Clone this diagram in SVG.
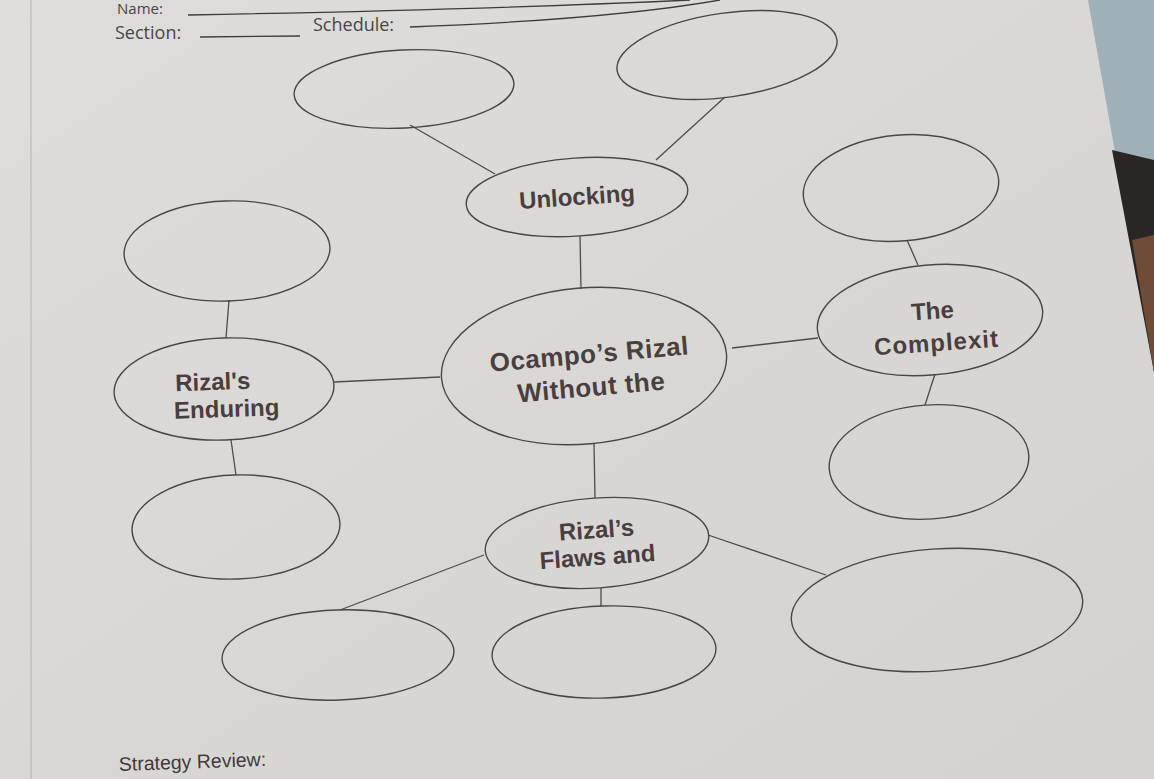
<svg xmlns="http://www.w3.org/2000/svg" width="1154" height="779" viewBox="0 0 1154 779">
<defs>
<linearGradient id="paper" x1="0" y1="0" x2="1" y2="1">
<stop offset="0" stop-color="#dfdddb"/>
<stop offset="1" stop-color="#d4d2cf"/>
</linearGradient>
<style>
.n{fill:none;stroke:#4a4646;stroke-width:1.4}
.c line{stroke:#4f4b4b;stroke-width:1.3}
.t{font-family:"Liberation Sans",Arial,sans-serif;font-weight:bold;font-size:24px;fill:#4a3f3f;text-anchor:middle}
.h{font-family:"Open Sans","Noto Sans",sans-serif;font-size:18px;fill:#4a4646}
.u{fill:none;stroke:#3d3a3a;stroke-width:1.3}
</style>
</defs>
<rect x="0" y="0" width="1154" height="779" fill="url(#paper)"/>
<polygon points="1088,0 1154,0 1154,372" fill="#9fb0b8"/>
<polygon points="1112,150 1154,160 1154,372" fill="#2a2624"/>
<polygon points="1132,240 1154,235 1154,372" fill="#6e4c36"/>
<line x1="31" y1="0" x2="31" y2="779" stroke="#b5b3b0" stroke-width="1"/>

<g id="header">
<text class="h" style="font-size:15px" x="117" y="14">Name:</text>
<path class="u" d="M188,15 C350,12 520,8 690,0"/>
<text class="h" x="115" y="39">Section:</text>
<line class="u" x1="200" y1="37" x2="300" y2="36"/>
<text class="h" x="313" y="31">Schedule:</text>
<path class="u" d="M410,27 C540,22 640,14 720,0"/>
</g>

<g class="c" id="connectors">
<line x1="410" y1="125" x2="495" y2="174"/>
<line x1="725" y1="97" x2="656" y2="160"/>
<line x1="580" y1="236" x2="581" y2="289"/>
<line x1="732" y1="348" x2="818" y2="338"/>
<line x1="907" y1="240" x2="918" y2="265"/>
<line x1="935" y1="374" x2="925" y2="405"/>
<line x1="229" y1="300" x2="226" y2="338"/>
<line x1="334" y1="382" x2="440" y2="377"/>
<line x1="231" y1="440" x2="236" y2="475"/>
<line x1="594" y1="444" x2="595" y2="498"/>
<line x1="484" y1="555" x2="340" y2="610"/>
<line x1="601" y1="588" x2="601" y2="607"/>
<line x1="708" y1="535" x2="826" y2="575"/>
</g>

<g id="n-topleft"><ellipse class="n" cx="404" cy="89" rx="110" ry="39" transform="rotate(-3 404 89)"/></g>
<g id="n-topright"><ellipse class="n" cx="727" cy="55" rx="111" ry="42" transform="rotate(-8 727 55)"/></g>
<g id="n-unlocking"><ellipse class="n" cx="577" cy="197" rx="111" ry="39" transform="rotate(-4 577 197)"/>
<text class="t" x="577" y="205" transform="rotate(-4 577 197)">Unlocking</text></g>
<g id="n-righttop"><ellipse class="n" cx="901" cy="188" rx="98" ry="53" transform="rotate(-5 901 188)"/></g>
<g id="n-complexity"><ellipse class="n" cx="930" cy="320" rx="113" ry="55" transform="rotate(-5 930 320)"/>
<text class="t" x="933" y="319" transform="rotate(-4 933 319)">The</text>
<text class="t" style="letter-spacing:1px" x="937" y="351" transform="rotate(-4 937 351)">Complexit</text></g>
<g id="n-lefttop"><ellipse class="n" cx="227" cy="251" rx="103" ry="50" transform="rotate(-2 227 251)"/></g>
<g id="n-enduring"><ellipse class="n" cx="224" cy="389" rx="110" ry="51" transform="rotate(-2 224 389)"/>
<text class="t" x="213" y="390" transform="rotate(-2 213 390)">Rizal's</text>
<text class="t" x="227" y="417" transform="rotate(-2 227 417)">Enduring</text></g>
<g id="n-center"><ellipse class="n" cx="584" cy="366" rx="143" ry="78" transform="rotate(-5 584 366)"/>
<text class="t" style="font-size:26px;letter-spacing:0.5px" x="590" y="363" transform="rotate(-5 590 363)">Ocampo’s Rizal</text>
<text class="t" style="font-size:26px;letter-spacing:0.5px" x="592" y="396" transform="rotate(-5 592 396)">Without the</text></g>
<g id="n-rightlow"><ellipse class="n" cx="929" cy="462" rx="100" ry="57" transform="rotate(-4 929 462)"/></g>
<g id="n-leftlow"><ellipse class="n" cx="236" cy="527" rx="104" ry="52" transform="rotate(-2 236 527)"/></g>
<g id="n-flaws"><ellipse class="n" cx="597" cy="543" rx="112" ry="45" transform="rotate(-4 597 543)"/>
<text class="t" x="597" y="538" transform="rotate(-4 597 538)">Rizal’s</text>
<text class="t" x="598" y="565" transform="rotate(-4 598 565)">Flaws and</text></g>
<g id="n-bottomright"><ellipse class="n" cx="937" cy="610" rx="146" ry="61" transform="rotate(-4 937 610)"/></g>
<g id="n-bottomleft"><ellipse class="n" cx="338" cy="655" rx="116" ry="45" transform="rotate(-2 338 655)"/></g>
<g id="n-bottommid"><ellipse class="n" cx="604" cy="652" rx="112" ry="46" transform="rotate(-2 604 652)"/></g>

<text x="119" y="771" font-family="Liberation Sans, Arial, sans-serif" font-size="19.5" fill="#3f3b3b" transform="rotate(-2 119 771)">Strategy Review:</text>
</svg>
